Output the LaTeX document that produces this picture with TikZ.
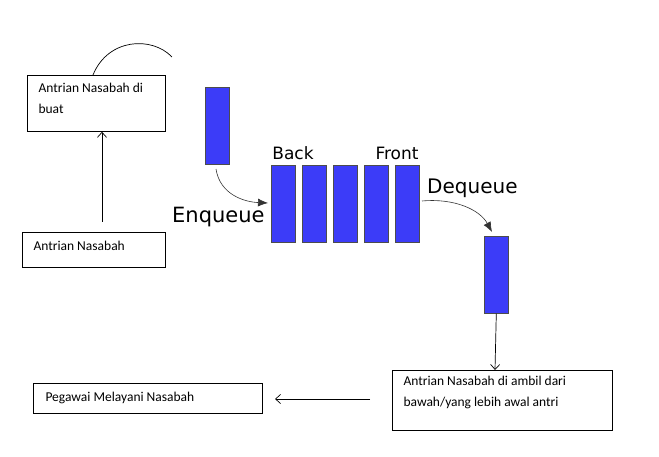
\documentclass[tikz,border=0pt]{standalone}
\usepackage{fontspec}
\setmainfont{Carlito}
\newfontfamily\djfont{DejaVu Sans}
\usetikzlibrary{arrows.meta}
\definecolor{qblue}{HTML}{3C3CF8}
\begin{document}
\begin{tikzpicture}[x=1pt,y=-1pt,
  txtbox/.style={draw,line width=0.8pt,anchor=north west,inner sep=0pt},
  blk/.style={draw=black!70,fill=qblue,line width=0.6pt,minimum width=24pt,minimum height=77pt,inner sep=0pt,anchor=north west},
  big/.style={font=\djfont\fontsize{17}{19}\selectfont,inner sep=0pt},
  small/.style={font=\fontsize{13.5}{21}\selectfont}]
\useasboundingbox (0,0) rectangle (659,457);
\node[txtbox,minimum width=138pt,minimum height=56pt] (b1) at (27,75) {};
\node[small,anchor=north west,align=left] (t1) at (35,80) {Antrian Nasabah di\\buat};
\node[txtbox,minimum width=143pt,minimum height=35pt] (b2) at (22,232) {};
\node[small,anchor=west] (t2) at (30,246) {Antrian Nasabah};
\node[txtbox,minimum width=220pt,minimum height=60pt] (b3) at (392,370) {};
\node[small,anchor=north west,align=left] (t3) at (400,373) {Antrian Nasabah di ambil dari\\bawah/yang lebih awal antri};
\node[txtbox,minimum width=229pt,minimum height=30pt] (b4) at (33,383) {};
\node[small,anchor=west] (t4) at (42,398) {Pegawai Melayani Nasabah};
\draw[line width=0.7pt] (93,75) .. controls (108,38) and (152,36) .. (172,57);
\draw[-{Straight Barb[length=5pt,width=9pt]},line width=0.7pt] (102,222) -- (b1.south -| 102,0);
\node[blk] (f) at (205,87) {};
\foreach \i/\x in {1/271,2/302,3/333,4/364,5/395} \node[blk] (q\i) at (\x,165) {};
\node[blk] (r) at (484,236) {};
\node[big,anchor=south] at (293,160) {Back};
\node[big,anchor=south] at (397,160) {Front};
\node[big,font=\djfont\fontsize{21}{23}\selectfont,anchor=south west] at (172,227) {Enqueue};
\node[big,font=\djfont\fontsize{20}{22}\selectfont,anchor=south west] at (427,198) {Dequeue};
\draw[-{Latex[length=10pt,width=8pt]},black!80,line width=0.6pt] (216,169) .. controls (220,195) and (245,202) .. (268,203);
\draw[-{Latex[length=10pt,width=8pt]},black!80,line width=0.6pt] (422,201) .. controls (455,198) and (480,210) .. (492,232);
\draw[-{Straight Barb[length=5pt,width=9pt]},line width=0.7pt] (r.south) -- (495,370);
\draw[-{Straight Barb[length=5pt,width=9pt]},line width=0.7pt] (370,399) -- (275,399);
\end{tikzpicture}
\end{document}
